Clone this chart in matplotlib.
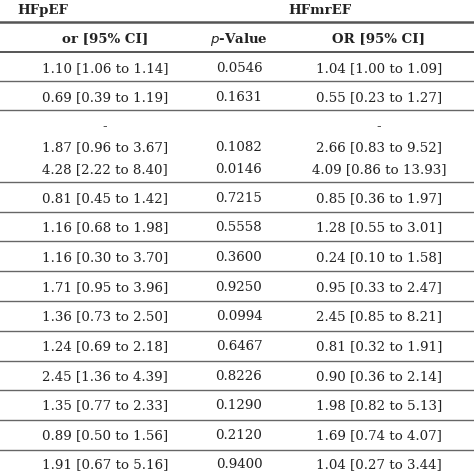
import matplotlib.pyplot as plt

# table contents
col_pef = ["1.10 [1.06 to 1.14]", "0.69 [0.39 to 1.19]", "-", "1.87 [0.96 to 3.67]",
           "4.28 [2.22 to 8.40]", "0.81 [0.45 to 1.42]", "1.16 [0.68 to 1.98]",
           "1.16 [0.30 to 3.70]", "1.71 [0.95 to 3.96]", "1.36 [0.73 to 2.50]",
           "1.24 [0.69 to 2.18]", "2.45 [1.36 to 4.39]", "1.35 [0.77 to 2.33]",
           "0.89 [0.50 to 1.56]", "1.91 [0.67 to 5.16]"]
col_p = ["0.0546", "0.1631", "", "0.1082", "0.0146", "0.7215", "0.5558", "0.3600",
         "0.9250", "0.0994", "0.6467", "0.8226", "0.1290", "0.2120", "0.9400"]
col_mref = ["1.04 [1.00 to 1.09]", "0.55 [0.23 to 1.27]", "-", "2.66 [0.83 to 9.52]",
            "4.09 [0.86 to 13.93]", "0.85 [0.36 to 1.97]", "1.28 [0.55 to 3.01]",
            "0.24 [0.10 to 1.58]", "0.95 [0.33 to 2.47]", "2.45 [0.85 to 8.21]",
            "0.81 [0.32 to 1.91]", "0.90 [0.36 to 2.14]", "1.98 [0.82 to 5.13]",
            "1.69 [0.74 to 4.07]", "1.04 [0.27 to 3.44]"]

row_y = [67, 96, 125, 146, 168, 197, 226, 256, 286, 315, 345, 375, 404, 434, 463]
rule_y = [81, 110, 182, 212, 241, 271, 301, 331, 361, 390, 420, 450]

fig = plt.figure(figsize=(4.74, 4.74), dpi=100)
ax = fig.add_axes([0, 0, 1, 1])
ax.set_xlim(0, 474)
ax.set_ylim(474, 0)
ax.axis('off')

font = dict(family='DejaVu Serif', fontsize=9.6, color='#222222')
cx = [105, 239, 379]

ax.text(17, 9, "HFpEF", ha='left', va='center_baseline', fontweight='bold', **font)
ax.text(320, 9, "HFmrEF", ha='center', va='center_baseline', fontweight='bold', **font)
ax.text(cx[0], 37, "or [95% CI]", ha='center', va='center_baseline', fontweight='bold', **font)
ax.text(cx[1], 37, r"$\mathbf{\it{p}}$-Value", ha='center', va='center_baseline', fontweight='bold', **font)
ax.text(cx[2], 37, "OR [95% CI]", ha='center', va='center_baseline', fontweight='bold', **font)

ax.axhline(22, color='#555555', lw=1.8)
ax.axhline(52, color='#555555', lw=1.4)
for y in rule_y:
    ax.axhline(y, color='#666666', lw=1.0)

for y, a, b, c in zip(row_y, col_pef, col_p, col_mref):
    ax.text(cx[0], y, a, ha='center', va='center_baseline', **font)
    ax.text(cx[1], y, b, ha='center', va='center_baseline', **font)
    ax.text(cx[2], y, c, ha='center', va='center_baseline', **font)

fig.savefig("out.png", dpi=100, facecolor='white')
